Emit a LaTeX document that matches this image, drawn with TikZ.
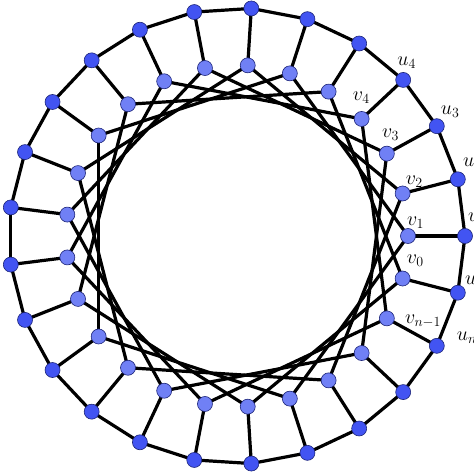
\documentclass[tikz,border=0pt]{standalone}
\usepackage{fix-cm}
\definecolor{outerblue}{RGB}{66,84,242}
\definecolor{innerblue}{RGB}{112,128,245}
\definecolor{rimblue}{RGB}{28,36,120}
\pgfdeclarelayer{bg}
\pgfsetlayers{bg,main}
\tikzset{
	vtx/.style={circle,inner sep=0pt,minimum size=15pt,draw=rimblue,line width=0.6pt},
	outv/.style={vtx,fill=outerblue},
	inv/.style={vtx,fill=innerblue},
	edge/.style={line width=3.2pt,black,line cap=round},
	lab/.style={anchor=base west,inner sep=0pt,font=\fontsize{20}{24}\selectfont}
}
\begin{document}
\begin{tikzpicture}[x=1pt,y=1pt]
		\useasboundingbox (-237,-238) rectangle (237,236);
		% outer cycle u_i and inner vertices v_i
		\foreach \i in {0,...,24}{
			\pgfmathsetmacro\a{(\i-1)*14.4}
			\node[outv] (u\i) at (\a:228) {};
			\node[inv] (v\i) at (\a:171) {};
		}
		% spokes, rim and the inner pentagons (v_i to v_{i+5})
		\begin{pgfonlayer}{bg}
		\foreach \i [evaluate=\i as \j using {int(mod(\i+1,25))},
			evaluate=\i as \k using {int(mod(\i+5,25))}] in {0,...,24}{
			\draw[edge] (u\i.center) to (u\j.center);
			\draw[edge] (u\i.center) to (v\i.center);
			\draw[edge] (v\i.center) to (v\k.center);
		}
		\end{pgfonlayer}
		\node[lab] (lu4) at ([shift={(-6,14)}]u4) {$u_4$};
		\node[lab] (lu3) at ([shift={(4,12)}]u3) {$u_3$};
		\node[lab] (lu2) at ([shift={(5,13)}]u2) {$u_2$};
		\node[lab] (lu1) at ([shift={(3,14)}]u1) {$u_1$};
		\node[lab] (lu0) at ([shift={(7,8)}]u0) {$u_0$};
		\node[lab] (lun) at ([shift={(20,5)}]u24) {$u_{n-1}$};
		\node[lab] (lv4) at ([shift={(-9,18)}]v4) {$v_4$};
		\node[lab] (lv3) at ([shift={(-5,16)}]v3) {$v_3$};
		\node[lab] (lv2) at ([shift={(3,9)}]v2) {$v_2$};
		\node[lab] (lv1) at ([shift={(-1,11)}]v1) {$v_1$};
		\node[lab] (lv0) at ([shift={(4,15)}]v0) {$v_0$};
		\node[lab] (lvn) at ([shift={(18,-5)}]v24) {$v_{n-1}$};
\end{tikzpicture}
\end{document}
